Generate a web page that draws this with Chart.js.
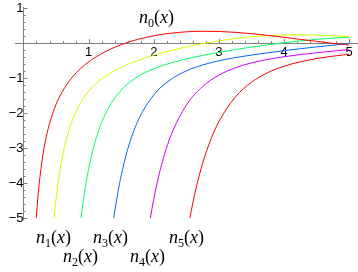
<!DOCTYPE html>
<html>
<head>
<meta charset="utf-8">
<script src="https://cdn.jsdelivr.net/npm/chart.js@4.4.1/dist/chart.umd.min.js"></script>
<style>
  html, body { margin: 0; padding: 0; background: #fff; }
  #c { display: block; }
</style>
</head>
<body>
<canvas id="c" width="358" height="272"></canvas>
<script>
// ---- data (n0 ... n5) ----
const n0X = [0.196, 0.22, 0.25, 0.3, 0.35, 0.4, 0.5, 0.6, 0.75, 0.875, 1.0, 1.25, 1.5, 1.75, 2.0, 2.25, 2.5, 2.75, 3.0, 3.25, 3.5, 3.75, 4.0, 4.25, 4.5, 4.75, 5.0];
const n0Y = [-5.004, -4.436, -3.876, -3.185, -2.684, -2.303, -1.755, -1.376, -0.976, -0.733, -0.540, -0.252, -0.047, 0.102, 0.208, 0.279, 0.320, 0.336, 0.330, 0.306, 0.268, 0.219, 0.163, 0.105, 0.047, -0.008, -0.057];

const n1X = [0.47, 0.5, 0.55, 0.6, 0.65, 0.75, 0.875, 1.0, 1.125, 1.25, 1.5, 1.75, 2.0, 2.25, 2.5, 2.75, 3.0, 3.25, 3.5, 3.75, 4.0, 4.25, 4.5, 4.75, 5.0];
const n1Y = [-5.000, -4.469, -3.769, -3.234, -2.815, -2.210, -1.714, -1.382, -1.143, -0.961, -0.696, -0.504, -0.351, -0.222, -0.111, -0.017, 0.063, 0.127, 0.177, 0.211, 0.230, 0.235, 0.228, 0.209, 0.180];

const n2X = [0.884, 0.91, 0.95, 1.0, 1.1, 1.25, 1.5, 1.75, 2.0, 2.25, 2.5, 2.75, 3.0, 3.25, 3.5, 3.75, 4.0, 4.25, 4.5, 4.75, 5.0];
const n2Y = [-5.000, -4.629, -4.127, -3.605, -2.820, -2.054, -1.346, -0.966, -0.734, -0.575, -0.454, -0.354, -0.267, -0.188, -0.116, -0.050, 0.009, 0.061, 0.105, 0.140, 0.165];

const n3X = [1.386, 1.4, 1.45, 1.5, 1.6, 1.75, 2.0, 2.25, 2.5, 2.75, 3.0, 3.25, 3.5, 3.75, 4.0, 4.25, 4.5, 4.75, 5.0];
const n3Y = [-5.000, -4.826, -4.265, -3.789, -3.037, -2.256, -1.484, -1.056, -0.797, -0.627, -0.508, -0.417, -0.343, -0.278, -0.219, -0.163, -0.111, -0.062, -0.015];

const n4X = [1.948, 2.0, 2.05, 2.1, 2.25, 2.5, 2.75, 3.0, 3.25, 3.5, 3.75, 4.0, 4.25, 4.5, 4.75, 5.0];
const n4Y = [-5.000, -4.461, -4.010, -3.618, -2.709, -1.777, -1.243, -0.918, -0.710, -0.569, -0.468, -0.392, -0.330, -0.278, -0.231, -0.187];

const n5X = [2.555, 2.6, 2.65, 2.75, 2.875, 3.0, 3.25, 3.5, 3.75, 4.0, 4.25, 4.5, 4.75, 5.0];
const n5Y = [-5.000, -4.572, -4.148, -3.440, -2.760, -2.247, -1.549, -1.121, -0.846, -0.663, -0.536, -0.444, -0.375, -0.320];

const seriesX = [n0X, n1X, n2X, n3X, n4X, n5X];
const seriesY = [n0Y, n1Y, n2Y, n3Y, n4Y, n5Y];
const seriesIdx = ['0', '1', '2', '3', '4', '5'];

const xTicks = [1, 2, 3, 4, 5];
const yTicks = [1, -1, -2, -3, -4, -5];

// ---- styles ----
const colors = ['#ff0000', '#ccff00', '#00ff66', '#0066ff', '#cc00ff', '#ff0000'];
const axisColor = '#808080';
// where each curve name sits (data units)
const labelPos = [
    [1.773, 0.572], [0.193, -5.718], [0.606, -6.261],
    [1.067, -5.718], [1.635, -6.261], [2.234, -5.718]
];

const datasets = seriesX.map((xs, i) => ({
    label: 'n' + seriesIdx[i] + '(x)',
    data: xs.map((x, j) => ({ x: x, y: seriesY[i][j] })),
    borderColor: colors[i],
    borderWidth: 1,
    pointRadius: 0,
    fill: false,
    cubicInterpolationMode: 'monotone'
}));

// minor / major tick marks, Mathematica style (inside)
const tickPlugin = {
    id: 'ticks',
    beforeDatasetsDraw(chart) {
        const ctx = chart.ctx;
        const xs = chart.scales.x, ys = chart.scales.y;
        const x0 = xs.getPixelForValue(0), y0 = ys.getPixelForValue(0);
        ctx.save();
        ctx.strokeStyle = axisColor;
        ctx.lineWidth = 1;
        ctx.beginPath();
        for (let k = 1; k <= 25; k++) {
            const px = Math.round(xs.getPixelForValue(k * 0.2)) + 0.5;
            const len = k % 5 === 0 ? 4 : 2;
            ctx.moveTo(px, y0);
            ctx.lineTo(px, y0 - len);
        }
        for (let k = -25; k <= 5; k++) {
            if (k === 0) continue;
            const py = Math.round(ys.getPixelForValue(k * 0.2)) + 0.5;
            const len = k % 5 === 0 ? 4 : 2;
            ctx.moveTo(x0, py);
            ctx.lineTo(x0 + len, py);
        }
        ctx.stroke();
        ctx.restore();
    }
};

// curve names n_k(x)
const namePlugin = {
    id: 'names',
    afterDraw(chart) {
        const ctx = chart.ctx;
        const xs = chart.scales.x, ys = chart.scales.y;
        ctx.save();
        ctx.fillStyle = '#000';
        ctx.textBaseline = 'alphabetic';
        ctx.textAlign = 'left';
        labelPos.forEach((p, i) => {
            let x = xs.getPixelForValue(p[0]);
            const y = ys.getPixelForValue(p[1]);
            ctx.font = 'italic 18px "Liberation Serif"';
            ctx.fillText('n', x, y);
            x += ctx.measureText('n').width;
            ctx.font = '12px "Liberation Serif"';
            ctx.fillText(seriesIdx[i], x, y + 4);
            x += ctx.measureText(seriesIdx[i]).width;
            ctx.font = '18px "Liberation Serif"';
            ctx.fillText('(', x, y);
            x += ctx.measureText('(').width;
            ctx.font = 'italic 18px "Liberation Serif"';
            ctx.fillText('x', x, y);
            x += ctx.measureText('x').width;
            ctx.font = '18px "Liberation Serif"';
            ctx.fillText(')', x, y);
        });
        ctx.restore();
    }
};

new Chart(document.getElementById('c'), {
    type: 'line',
    data: { datasets: datasets },
    options: {
        responsive: false,
        animation: false,
        layout: { padding: { left: 15, right: 1, top: 7, bottom: 53 } },
        plugins: { legend: { display: false }, tooltip: { enabled: false } },
        scales: {
            x: {
                type: 'linear',
                min: -0.13,
                max: 5.12,
                position: { y: 0 },
                afterFit: s => { s.height = 0; s.paddingLeft = 0; s.paddingRight = 0; },
                afterBuildTicks: s => { s.ticks = xTicks.map(v => ({ value: v })); },
                grid: { display: false, drawTicks: false },
                border: { display: true, color: axisColor, width: 1 },
                ticks: {
                    padding: 2,
                    color: '#000',
                    font: { family: '"Liberation Sans"', size: 13 },
                    maxRotation: 0,
                    autoSkip: false,
                    callback: v => String(v)
                }
            },
            y: {
                type: 'linear',
                min: -5.03,
                max: 1.03,
                position: { x: 0 },
                afterFit: s => { s.width = 0; s.paddingTop = 0; s.paddingBottom = 0; },
                afterBuildTicks: s => { s.ticks = yTicks.map(v => ({ value: v })); },
                grid: { display: false, drawTicks: false },
                border: { display: true, color: axisColor, width: 1 },
                ticks: {
                    padding: 6,
                    color: '#000',
                    font: { family: '"Liberation Sans"', size: 13 },
                    autoSkip: false,
                    callback: v => (v < 0 ? '\u2212' + Math.abs(v) : String(v))
                }
            }
        }
    },
    plugins: [tickPlugin, namePlugin]
});
</script>
</body>
</html>
